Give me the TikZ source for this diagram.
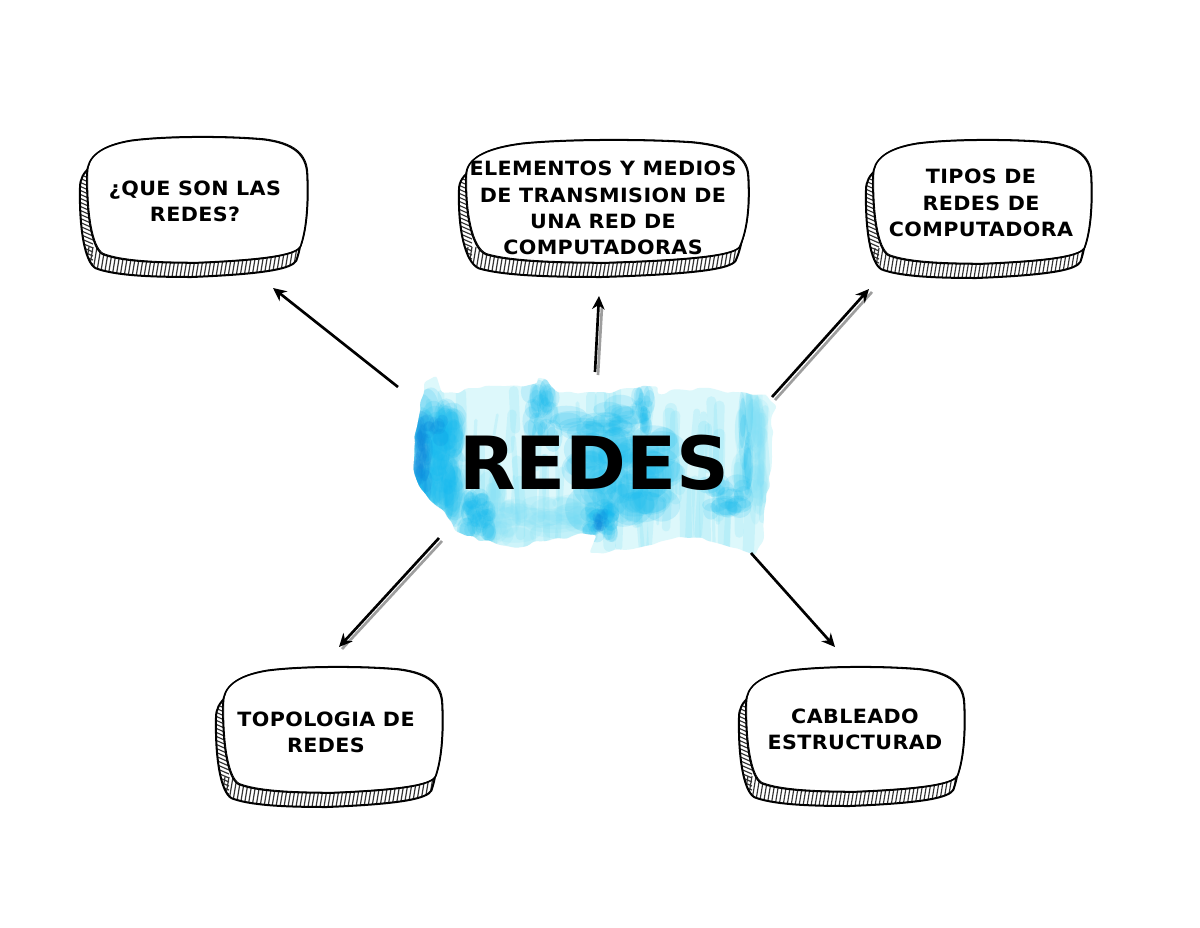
\documentclass[tikz,border=0pt]{standalone}
\usepackage{fontspec}
\setmainfont{DejaVu Sans}
\usetikzlibrary{arrows.meta,decorations.pathmorphing}
\definecolor{wcbase}{HTML}{DDF8FB}
\definecolor{wcmid}{HTML}{7FE0F5}
\definecolor{wcstrong}{HTML}{14BBEE}
\definecolor{wcdeep}{HTML}{0A84DC}
\tikzset{
  x=0.6pt,y=-0.6pt,
  boxedge/.style={draw=black,line width=0.95pt,line join=round},
  boxfront/.style={boxedge,fill=white},
  hatchline/.style={draw=black!80,line width=0.7pt},
  boxlabel/.style={font=\bfseries\fontsize{11.8}{15.7}\selectfont\addfontfeature{FakeStretch=1.05,LetterSpace=2},align=center,text=black,inner sep=0pt},
  titlelabel/.style={font=\bfseries\fontsize{44}{48}\selectfont,text=black,inner sep=0pt},
  flow/.style={draw=black,line width=1.6pt,-{Stealth[length=8pt,width=7.5pt]}},
  flowshade/.style={draw=black!38,line width=1.6pt},
  dab/.style={fill=#1,draw=none,opacity=.15},
}
\def\blobpath{(0,.29) .. controls (.0,.16) and (.06,.07) .. (.2,.03)
  .. controls (.35,-.005) and (.62,-.008) .. (.8,.02)
  .. controls (.94,.05) and (.995,.14) .. (1,.29)
  .. controls (1.006,.5) and (1.0,.72) .. (.97,.87)
  .. controls (.95,.93) and (.85,.975) .. (.5,1)
  .. controls (.3,1.0) and (.15,.985) .. (.07,.93)
  .. controls (.02,.88) and (-.004,.6) .. (0,.29) -- cycle}
% name, left, top, width, height, text centre x, text centre y, text
\newcommand{\sketchbox}[8]{%
  \begin{scope}
    \clip[shift={(#2-7,#3+14)},xscale=#4+3,yscale=#5] \blobpath;
    \foreach \hx in {-24,-20,...,270}{
      \draw[hatchline] (#2+\hx,#3+#5+20) -- (#2+\hx+6,#3+#5-16);
    }
    \foreach \hy in {0,4,...,140}{
      \draw[hatchline] (#2-10,#3+\hy) -- (#2+6,#3+\hy+7);
    }
  \end{scope}
  \draw[boxedge,line width=1.2pt,shift={(#2-7,#3+14)},xscale=#4+3,yscale=#5] \blobpath;
  \draw[boxfront,shift={(#2,#3)},xscale=#4,yscale=#5] \blobpath;
  \draw[boxedge,line width=.5pt,shift={(#2+.8,#3-.8)},xscale=#4,yscale=#5] \blobpath;
  \node[boxlabel] (#1) at (#6,#7) {#8};
}
% soft wash: centre, half extents, colour, number of dabs
\newcommand{\wcdab}[6]{%
  \foreach \k in {1,...,#6}{
    \pgfmathsetmacro{\dx}{#1+(2*rnd-1)*#3}
    \pgfmathsetmacro{\dy}{#2+(2*rnd-1)*#4}
    \pgfmathsetmacro{\drx}{(.25+.35*rnd)*#3+2}
    \pgfmathsetmacro{\dry}{(.25+.35*rnd)*#4+2}
    \fill[dab=#5] (\dx,\dy) ellipse [x radius=\drx,y radius=\dry];
  }
}
\begin{document}
\begin{tikzpicture}
\useasboundingbox[fill=white] (0,0) rectangle (1200,927);

% watercolour wash
\begin{scope}
  \pgfmathsetseed{417}
  \clip[decorate,decoration={random steps,segment length=5pt,amplitude=1.6pt},rounded corners=1.5pt]
    plot[smooth cycle,tension=.45] coordinates {
 (415,445) (420,412) (427,381) (450,392) (495,386) (525,386) (535,377) (560,392) (600,392)
 (645,386) (655,394) (700,388) (735,392) (768,398) (772,440) (766,500) (760,545) (735,548)
 (690,538) (650,545) (600,553) (592,535) (545,541) (508,546) (465,535) (450,520) (428,497) (414,470)};
  \fill[wcbase] (400,360) rectangle (790,570);
  % pale vertical streaks across the whole wash
  \foreach \k in {1,...,90}{
    \pgfmathsetmacro{\sx}{415+rnd*355}
    \pgfmathsetmacro{\sy}{385+rnd*110}
    \pgfmathsetmacro{\sl}{25+rnd*70}
    \pgfmathsetmacro{\sw}{1.5+rnd*6}
    \draw[draw=wcmid,opacity=.22,line width=\sw pt,line cap=round] (\sx,\sy) -- (\sx+rnd*10-5,\sy+\sl);
  }
  \wcdab{480}{505}{30}{30}{wcmid}{22}
  \wcdab{545}{520}{45}{18}{wcmid}{26}
  \wcdab{750}{450}{12}{50}{wcmid}{36}
  \wcdab{725}{500}{20}{18}{wcstrong}{20}
  \wcdab{745}{440}{5}{45}{wcstrong}{8}
  \wcdab{541}{412}{13}{24}{wcstrong}{26}
  \wcdab{600}{420}{35}{15}{wcstrong}{22}
  \wcdab{643}{410}{7}{20}{wcstrong}{18}
  \wcdab{625}{475}{40}{36}{wcstrong}{50}
  \wcdab{437}{460}{20}{46}{wcstrong}{80}
  \wcdab{478}{515}{12}{18}{wcstrong}{40}
  \wcdab{601}{520}{12}{14}{wcstrong}{40}
  \wcdab{601}{520}{5}{8}{wcdeep}{14}
  \wcdab{422}{460}{6}{30}{wcdeep}{24}
  \wcdab{432}{430}{12}{12}{wcdeep}{10}
\end{scope}

\node[titlelabel] (title) at (594.5,463) {REDES};

% boxes
\sketchbox{que}{87}{137}{220}{126}{195}{201}{¿QUE SON LAS\\REDES?}
\sketchbox{elem}{466}{140}{282}{123}{603}{208}{ELEMENTOS Y MEDIOS\\DE TRANSMISION DE\\UNA RED DE\\COMPUTADORAS}
\sketchbox{tipos}{873}{140}{218}{124}{981}{203}{TIPOS DE\\REDES DE\\COMPUTADORA}
\sketchbox{topo}{223}{667}{219}{126}{326}{732}{TOPOLOGIA DE\\REDES}
\sketchbox{cable}{746}{667}{218}{125}{855}{729}{CABLEADO\\ESTRUCTURAD}

% connector ends
\coordinate (s1) at (398,387); \coordinate (e1) at (273,288);
\coordinate (s2) at (595,372); \coordinate (e2) at (599,296);
\coordinate (s3) at (772,397); \coordinate (e3) at (869,289);
\coordinate (s4) at (439,538); \coordinate (e4) at (339,647);
\coordinate (s5) at (751,553); \coordinate (e5) at (835,647);

% grey pencil shade beside some of the arrows
\draw[flowshade] ([shift={(3,3)}]s2) -- ([shift={(3,10)}]e2);
\draw[flowshade] ([shift={(3,3)}]s3) -- ([shift={(3,3)}]e3);
\draw[flowshade] ([shift={(3,3)}]s4) -- ([shift={(3,2)}]e4);

\draw[flow] (s1) -- (e1);
\draw[flow] (s2) -- (e2);
\draw[flow] (s3) -- (e3);
\draw[flow] (s4) -- (e4);
\draw[flow] (s5) -- (e5);
\end{tikzpicture}
\end{document}
